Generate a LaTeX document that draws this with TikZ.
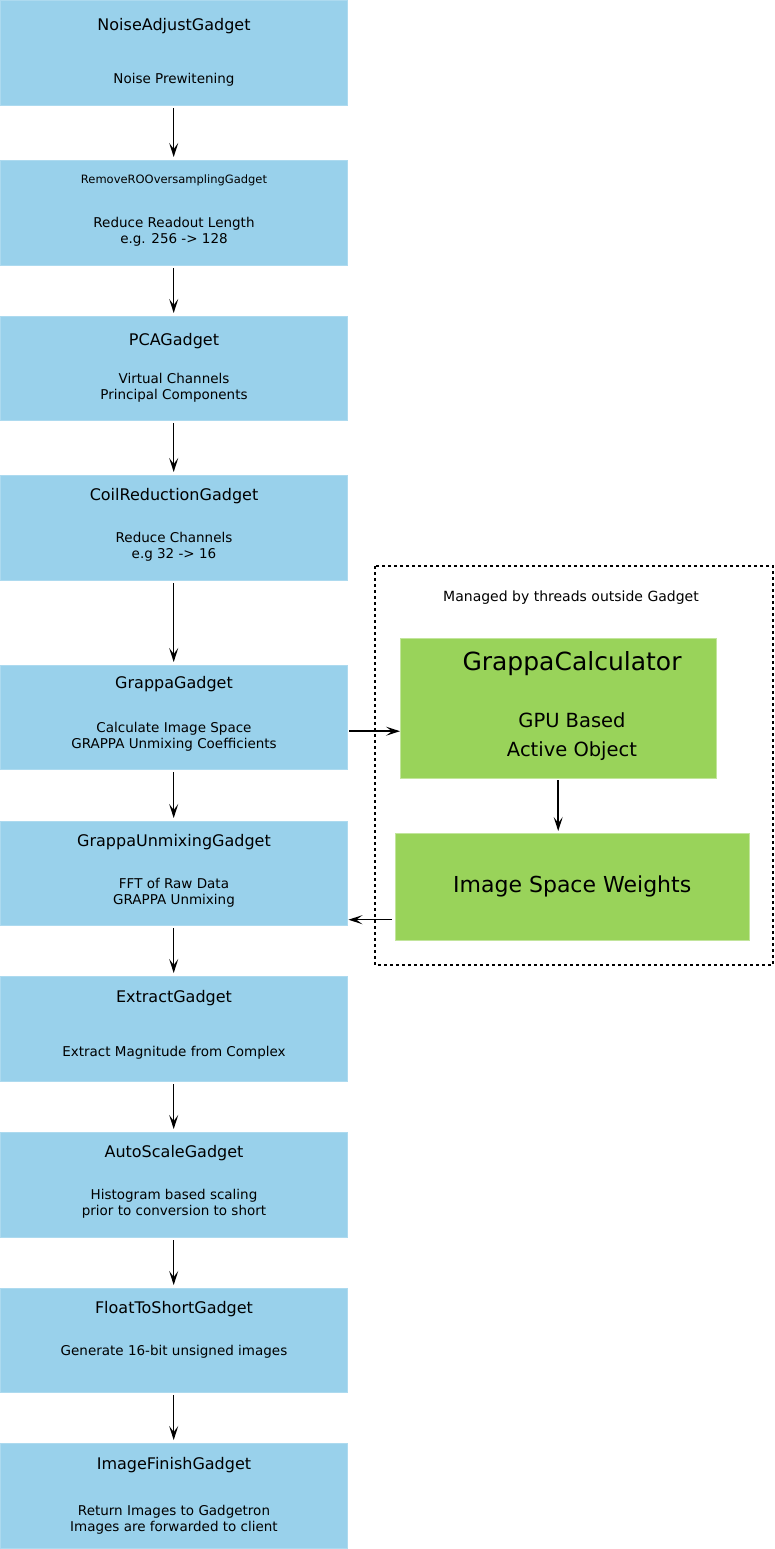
\documentclass[tikz,border=0pt]{standalone}
\usepackage{fontspec}
\setmainfont{DejaVu Sans}
\usetikzlibrary{arrows.meta}
\definecolor{bb}{HTML}{99D1EB}
\definecolor{gg}{HTML}{99D35A}
\begin{document}
\begin{tikzpicture}[x=1pt,y=-1pt,
 blue/.style={fill=bb,draw=bb!80!white,minimum width=347pt,anchor=north west,inner sep=0},
 green/.style={fill=gg,draw=gg!60!white,anchor=north west,inner sep=0},
 tt/.style={font=\fontsize{16}{19}\selectfont},
 st/.style={font=\fontsize{13.5}{16}\selectfont,align=center},
 arr/.style={-{Stealth[length=14pt,width=9pt,inset=6pt]},line width=1.5pt}]
\useasboundingbox (0,0) rectangle (774,1549);
\def\bx#1#2#3{\node[blue,minimum height=#3pt] (#1) at (0,#2) {};}
\bx{b1}{0}{105}\bx{b2}{160}{105}\bx{b3}{316}{104}\bx{b4}{475}{105}\bx{b5}{665}{104}
\bx{b6}{821}{104}\bx{b7}{976}{105}\bx{b8}{1132}{105}\bx{b9}{1288}{104}\bx{b10}{1443}{105}
\node[tt] (t1) at (174,26) {NoiseAdjustGadget};
\node[st] (s1) at (174,80) {Noise Prewitening};
\node[font=\fontsize{11.5}{14}\selectfont] (t2) at (174,180) {RemoveROOversamplingGadget};
\node[st] (s2) at (174,232) {Reduce Readout Length\\e.g. 256 -> 128};
\node[tt] (t3) at (174,341) {PCAGadget};
\node[st] (s3) at (174,388) {Virtual Channels\\Principal Components};
\node[tt] (t4) at (174,496) {CoilReductionGadget};
\node[st] (s4) at (174,547) {Reduce Channels\\e.g 32 -> 16};
\node[tt] (t5) at (174,684) {GrappaGadget};
\node[st] (s5) at (174,737) {Calculate Image Space\\GRAPPA Unmixing Coefficients};
\node[tt] (t6) at (174,842) {GrappaUnmixingGadget};
\node[st] (s6) at (174,893) {FFT of Raw Data\\GRAPPA Unmixing};
\node[tt] (t7) at (174,998) {ExtractGadget};
\node[st] (s7) at (174,1053) {Extract Magnitude from Complex};
\node[tt] (t8) at (174,1153) {AutoScaleGadget};
\node[st] (s8) at (174,1204) {Histogram based scaling\\prior to conversion to short};
\node[tt] (t9) at (174,1309) {FloatToShortGadget};
\node[st] (s9) at (174,1352) {Generate 16-bit unsigned images};
\node[tt] (t10) at (174,1465) {ImageFinishGadget};
\node[st] (s10) at (174,1520) {Return Images to Gadgetron\\Images are forwarded to client};
\draw[dashed,line width=1.5pt] (375,566) rectangle (773,965);
\node[font=\fontsize{14}{17}\selectfont] (lab) at (571,598) {Managed by threads outside Gadget};
\node[green,minimum width=316pt,minimum height=140pt] (gc) at (400,638) {};
\node[font=\fontsize{25}{30}\selectfont] (gct) at (572,664) {GrappaCalculator};
\node[align=center,font=\fontsize{19.5}{29}\selectfont] (gcs) at (572,737) {GPU Based\\Active Object};
\node[green,minimum width=354pt,minimum height=107pt] (isw) at (395,833) {};
\node[font=\fontsize{22}{26}\selectfont] at (isw.center) {Image Space Weights};
\foreach \a/\b in {b1/b2,b2/b3,b3/b4,b4/b5,b5/b6,b6/b7,b7/b8,b8/b9,b9/b10}
 \draw[arr] ([yshift=-3pt]\a.south) -- ([yshift=3pt]\b.north);
\draw[arr] ([shift={(2pt,-14pt)}]b5.east) -- ([shift={(0pt,-14pt)}]gc.west |- b5.east);
\draw[arr] ([yshift=-2pt]gc.south) -- ([yshift=2pt]gc.south |- isw.north);
\draw[arr] ([xshift=-3pt,yshift=-33pt]isw.west) -- ([xshift=1pt,yshift=-33pt]b6.east |- isw.west);
\end{tikzpicture}
\end{document}
